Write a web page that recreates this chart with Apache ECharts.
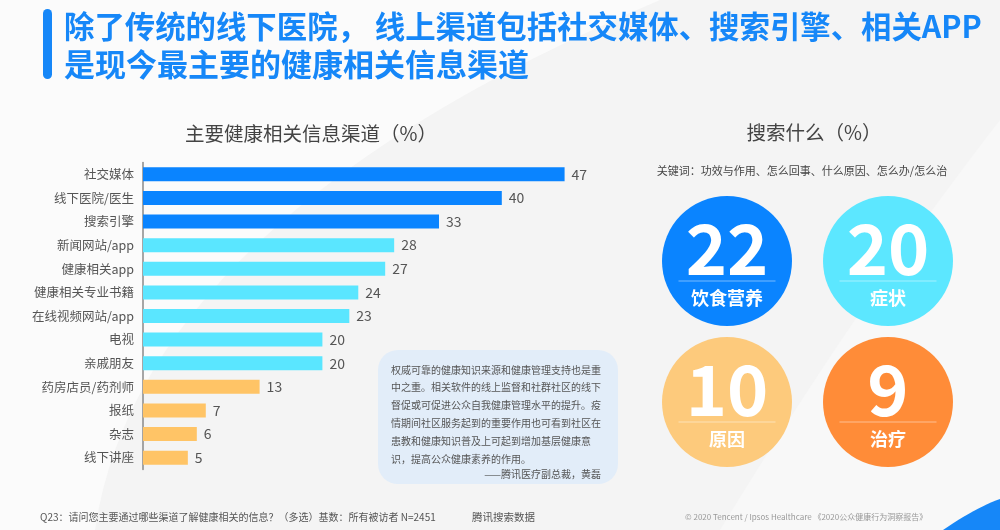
<!DOCTYPE html>
<html>
<head>
<meta charset="utf-8">
<style>
  html, body { margin: 0; padding: 0; background: #f4f4f4; }
  #main { width: 1000px; height: 530px; }
</style>
<script src="https://cdn.jsdelivr.net/npm/echarts@6/dist/echarts.min.js"></script>
</head>
<body>
<div id="main"></div>
<script>
// 主要健康相关信息渠道（%）
const channels = ['社交媒体', '线下医院/医生', '搜索引擎', '新闻网站/app', '健康相关app', '健康相关专业书籍',
  '在线视频网站/app', '电视', '亲戚朋友', '药房店员/药剂师', '报纸', '杂志', '线下讲座'];
const channelValues = [47, 40, 33, 28, 27, 24, 23, 20, 20, 13, 7, 6, 5];

// 搜索什么（%）
const searchTopics = ['饮食营养', '症状', '原因', '治疗'];
const searchValues = [22, 20, 10, 9];

const FONT = '"Noto Sans CJK SC", "Noto Sans", sans-serif';
const barColors = ['#0a84ff', '#5ae6ff', '#ffc466'];
const circleColors = ['#0a84ff', '#5ce7ff', '#fdca7c', '#ff8c38'];

// 前3个线上主渠道深蓝，其余线上/媒体浅蓝，线下小渠道橙色
function barColor(i) {
  if (i < 3) return barColors[0];
  if (i < 9) return barColors[1];
  return barColors[2];
}

// 背景的浅色弧形
function curvePoints(p0, p1, p2, n) {
  const pts = [];
  for (let k = 0; k <= n; k++) {
    const t = k / n;
    pts.push([
      (1 - t) * (1 - t) * p0[0] + 2 * t * (1 - t) * p1[0] + t * t * p2[0],
      (1 - t) * (1 - t) * p0[1] + 2 * t * (1 - t) * p1[1] + t * t * p2[1]
    ]);
  }
  return pts;
}
const bgLeft = [[0, 0]].concat(curvePoints([660, 0], [140, 220], [95, 530], 30), [[0, 530]]);
const bgRight = [[1000, 120]].concat(curvePoints([1000, 120], [860, 300], [720, 530], 30), [[1000, 530]]);

const quoteLines = [
  '权威可靠的健康知识来源和健康管理支持也是重',
  '中之重。相关软件的线上监督和社群社区的线下',
  '督促或可促进公众自我健康管理水平的提升。疫',
  '情期间社区服务起到的重要作用也可看到社区在',
  '患教和健康知识普及上可起到增加基层健康意',
  '识，提高公众健康素养的作用。'
];

const chart = echarts.init(document.getElementById('main'));

const option = {
  backgroundColor: '#f4f4f4',
  animation: false,
  textStyle: { fontFamily: FONT },
  grid: [
    { left: 143, top: 162.5, width: 448.5, height: 307 },
    { left: 727, top: 261, width: 161, height: 141 }
  ],
  xAxis: [
    { gridIndex: 0, type: 'value', min: 0, max: 50, show: false },
    { gridIndex: 1, type: 'value', min: 0, max: 1, show: false }
  ],
  yAxis: [
    {
      gridIndex: 0,
      type: 'category',
      data: channels,
      inverse: true,
      axisLine: { lineStyle: { color: '#8a8a8a', width: 1.5 } },
      axisTick: { show: false },
      axisLabel: { fontSize: 12.5, color: '#555', margin: 9, fontFamily: FONT }
    },
    { gridIndex: 1, type: 'value', min: 0, max: 1, inverse: true, show: false }
  ],
  series: [
    {
      type: 'bar',
      xAxisIndex: 0,
      yAxisIndex: 0,
      barWidth: 14,
      data: channelValues.map((v, i) => ({ value: v, itemStyle: { color: barColor(i) } })),
      label: {
        show: true,
        position: 'right',
        distance: 7,
        fontSize: 14,
        color: '#555',
        fontFamily: FONT
      }
    },
    {
      // 搜索什么：四个圆
      type: 'scatter',
      xAxisIndex: 1,
      yAxisIndex: 1,
      symbolSize: 130,
      z: 3,
      data: searchValues.map((v, i) => ({
        value: [i % 2, Math.floor(i / 2), v],
        name: searchTopics[i],
        itemStyle: { color: circleColors[i], opacity: 1 }
      })),
      label: {
        show: true,
        position: 'inside',
        formatter: p => '{n|' + p.value[2] + '}\n{t|' + p.name + '}',
        rich: {
          n: { fontSize: 70, fontWeight: 'bold', color: '#fff', lineHeight: 74, fontFamily: FONT },
          t: { fontSize: 18, fontWeight: 'bold', color: '#fff', lineHeight: 25, fontFamily: FONT }
        }
      }
    },
    {
      // 圆内分隔线
      type: 'scatter',
      xAxisIndex: 1,
      yAxisIndex: 1,
      symbol: 'rect',
      symbolSize: [97, 1],
      symbolOffset: [0, 20],
      z: 4,
      silent: true,
      itemStyle: { color: 'rgba(255,255,255,0.45)', opacity: 1 },
      data: searchValues.map((v, i) => [i % 2, Math.floor(i / 2), v]),
      label: { show: false }
    }
  ],
  graphic: [
    { type: 'polygon', z: -10, shape: { points: bgLeft }, style: { fill: '#fbfbfb' } },
    { type: 'polygon', z: -10, shape: { points: bgRight }, style: { fill: '#f8f8f8' } },
    // 标题
    { type: 'rect', shape: { x: 43, y: 9, width: 9, height: 70, r: 4.5 }, style: { fill: '#1687f8' } },
    {
      type: 'text', x: 64, y: 26,
      style: {
        text: '除了传统的线下医院， 线上渠道包括社交媒体、搜索引擎、相关APP',
        fontSize: 30.4, fontWeight: 'bold', fontFamily: FONT, fill: '#1687f8',
        textVerticalAlign: 'middle'
      }
    },
    {
      type: 'text', x: 64, y: 64,
      style: {
        text: '是现今最主要的健康相关信息渠道',
        fontSize: 31, fontWeight: 'bold', fontFamily: FONT, fill: '#1687f8',
        textVerticalAlign: 'middle'
      }
    },
    // 小标题
    {
      type: 'text', x: 311, y: 134,
      style: {
        text: '主要健康相关信息渠道（%）', fontSize: 19.5, fontFamily: FONT, fill: '#444',
        textAlign: 'center', textVerticalAlign: 'middle'
      }
    },
    {
      type: 'text', x: 814, y: 133,
      style: {
        text: '搜索什么（%）', fontSize: 19.5, fontFamily: FONT, fill: '#444',
        textAlign: 'center', textVerticalAlign: 'middle'
      }
    },
    {
      type: 'text', x: 802, y: 171,
      style: {
        text: '关键词：功效与作用、怎么回事、什么原因、怎么办/怎么治', fontSize: 11, fontFamily: FONT, fill: '#444',
        textAlign: 'center', textVerticalAlign: 'middle'
      }
    },
    // 引言框
    { type: 'rect', shape: { x: 378, y: 350, width: 240, height: 134, r: 20 }, style: { fill: '#e2edf9' } },
    {
      type: 'text', x: 391, y: 361,
      style: {
        text: quoteLines.join('\n'), fontSize: 10, lineHeight: 17.8, fontFamily: FONT, fill: '#555',
        textVerticalAlign: 'top'
      }
    },
    {
      type: 'text', x: 601, y: 474,
      style: {
        text: '——腾讯医疗副总裁，黄磊', fontSize: 10, fontFamily: FONT, fill: '#555',
        textAlign: 'right', textVerticalAlign: 'middle'
      }
    },
    // 脚注
    {
      type: 'text', x: 40, y: 517,
      style: {
        text: 'Q23：请问您主要通过哪些渠道了解健康相关的信息？（多选）基数：所有被访者 N=2451',
        fontSize: 10, fontFamily: FONT, fill: '#555', textVerticalAlign: 'middle'
      }
    },
    {
      type: 'text', x: 472, y: 517,
      style: { text: '腾讯搜索数据', fontSize: 10.5, fontFamily: FONT, fill: '#555', textVerticalAlign: 'middle' }
    },
    {
      type: 'text', x: 685, y: 517,
      style: {
        text: '© 2020 Tencent / Ipsos Healthcare 《2020公众健康行为洞察报告》',
        fontSize: 8, fontFamily: FONT, fill: '#999', textVerticalAlign: 'middle'
      }
    },
    {
      type: 'polygon',
      shape: { points: [[943, 530]].concat(curvePoints([943, 530], [975, 508], [1000, 499], 12), [[1000, 530]]) },
      style: { fill: '#1687f8' }
    }
  ]
};

chart.setOption(option);
</script>
</body>
</html>
